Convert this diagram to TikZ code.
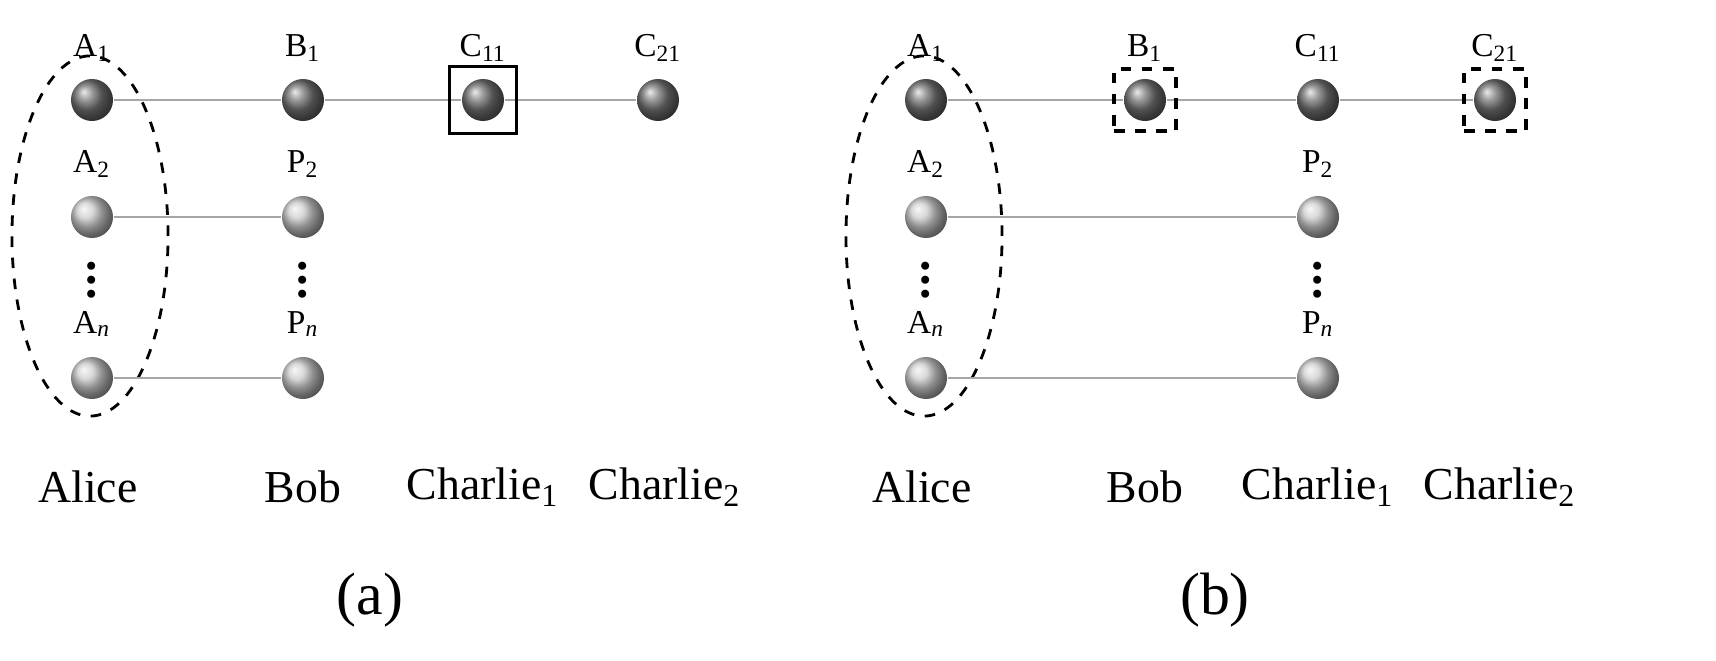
\documentclass[tikz,border=0pt]{standalone}
\usepackage{fontspec}
\setmainfont{Liberation Serif}
\usetikzlibrary{shapes.geometric}
\begin{document}
\begin{tikzpicture}[x=0.01cm,y=-0.01cm,
  dk/.style={circle,minimum size=0.42cm,inner sep=0pt,ball color=black!55,shading=ball},
  lt/.style={circle,minimum size=0.42cm,inner sep=0pt,ball color=black!20,shading=ball},
  lbl/.style={font=\fontsize{9.5}{10}\selectfont},
  nm/.style={font=\fontsize{13}{14}\selectfont},
  captxt/.style={font=\fontsize{17}{18}\selectfont},
  ln/.style={draw=black!35,line width=0.5pt},
  dots/.style={font=\fontsize{14}{14}\selectfont\bfseries},
  ell/.style={ellipse,draw,dashed,line width=0.8pt,minimum width=1.56cm,minimum height=3.6cm}]
\useasboundingbox (0,0) rectangle (1716,661);
% panel a
\node[ell] (ea) at (90,236) {};
\node[dk] (a1) at (92,100) {}; \node[dk] (b1) at (303,100) {};
\node[dk] (c11) at (483,100) {}; \node[dk] (c21) at (658,100) {};
\node[lt] (a2) at (92,217) {}; \node[lt] (p2) at (303,217) {};
\node[lt] (an) at (92,378) {}; \node[lt] (pn) at (303,378) {};
\draw[ln] (a1)--(b1)--(c11)--(c21);
\draw[ln] (a2)--(p2); \draw[ln] (an)--(pn);
\node[draw,line width=0.9pt,minimum size=0.67cm] (sq) at (483,100) {};
\node[lbl] (la1) at (92,48) {A\textsubscript{1}};
\node[lbl] (lb1) at (303,48) {B\textsubscript{1}};
\node[lbl] (lc11) at (483,48) {C\textsubscript{11}};
\node[lbl] (lc21) at (658,48) {C\textsubscript{21}};
\node[lbl] (la2) at (92,164) {A\textsubscript{2}};
\node[lbl] (lp2) at (303,164) {P\textsubscript{2}};
\node[lbl] (lan) at (92,324) {A\textsubscript{\textit{n}}};
\node[lbl] (lpn) at (303,324) {P\textsubscript{\textit{n}}};
\node[dots] (da) at (92,270) {$\vdots$};
\node[dots] (db) at (303,270) {$\vdots$};
\node[nm] (na) at (88,487) {Alice};
\node[nm] (nb) at (303,487) {Bob};
\node[nm] (nc1) at (483,487) {Charlie\textsubscript{1}};
\node[nm] (nc2) at (665,487) {Charlie\textsubscript{2}};
\node[captxt] (capa) at (370,600) {(a)};
% panel b
\node[ell] (eb) at (924,236) {};
\node[dk] (ba1) at (926,100) {}; \node[dk] (bb1) at (1145,100) {};
\node[dk] (bc11) at (1318,100) {}; \node[dk] (bc21) at (1495,100) {};
\node[lt] (ba2) at (926,217) {}; \node[lt] (bp2) at (1318,217) {};
\node[lt] (ban) at (926,378) {}; \node[lt] (bpn) at (1318,378) {};
\draw[ln] (ba1)--(bb1)--(bc11)--(bc21);
\draw[ln] (ba2)--(bp2); \draw[ln] (ban)--(bpn);
\node[draw,dashed,line width=0.9pt,minimum size=0.62cm] (sq1) at (1145,100) {};
\node[draw,dashed,line width=0.9pt,minimum size=0.62cm] (sq2) at (1495,100) {};
\node[lbl] (bla1) at (926,48) {A\textsubscript{1}};
\node[lbl] (blb1) at (1145,48) {B\textsubscript{1}};
\node[lbl] (blc11) at (1318,48) {C\textsubscript{11}};
\node[lbl] (blc21) at (1495,48) {C\textsubscript{21}};
\node[lbl] (bla2) at (926,164) {A\textsubscript{2}};
\node[lbl] (blp2) at (1318,164) {P\textsubscript{2}};
\node[lbl] (blan) at (926,324) {A\textsubscript{\textit{n}}};
\node[lbl] (blpn) at (1318,324) {P\textsubscript{\textit{n}}};
\node[dots] (bda) at (926,270) {$\vdots$};
\node[dots] (bdb) at (1318,270) {$\vdots$};
\node[nm] (bna) at (922,487) {Alice};
\node[nm] (bnb) at (1145,487) {Bob};
\node[nm] (bnc1) at (1318,487) {Charlie\textsubscript{1}};
\node[nm] (bnc2) at (1500,487) {Charlie\textsubscript{2}};
\node[captxt] (capb) at (1215,600) {(b)};
\end{tikzpicture}
\end{document}
